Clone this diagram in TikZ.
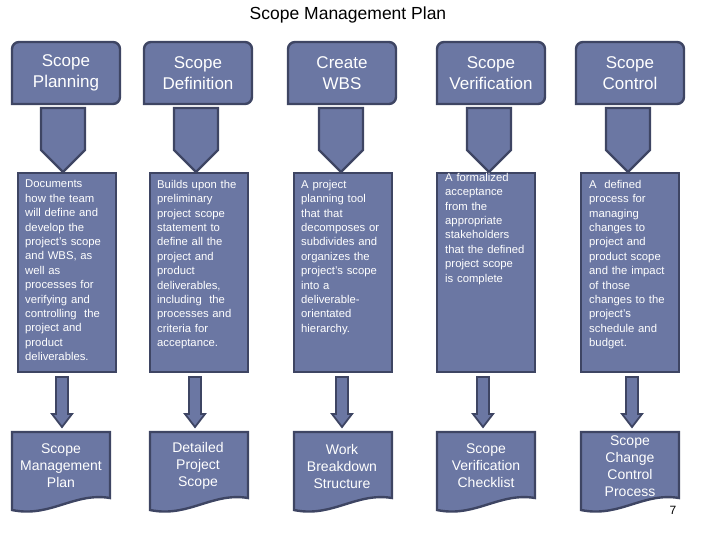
\documentclass[tikz,border=0pt]{standalone}
\usepackage{fontspec}
\setmainfont{Liberation Sans}
\definecolor{boxfill}{HTML}{6B77A3}
\definecolor{boxline}{HTML}{3E4563}
\begin{document}
\begin{tikzpicture}[x=1pt,y=-1pt,
  shp/.style={fill=boxfill,draw=boxline,line width=2.4pt,line join=miter},
  head/.style={text=white,align=center,font=\fontsize{17}{21}\selectfont},
  body/.style={text=white,align=left,anchor=north west,inner sep=0pt,text width=94pt,font=\fontsize{11.3}{14.4}\selectfont},
  docl/.style={text=white,align=center,font=\fontsize{14}{17}\selectfont}]
\useasboundingbox (0,0) rectangle (720,540);
\node[font=\fontsize{17.5}{20}\selectfont] (title) at (348,15) {Scope Management Plan};
\foreach \n/\tl/\bl/\cx/\ax/\dl/\tx in {
 1/12/18/63/62/12/{Scope\\Planning},
 2/144/150/196/195/150/{Scope\\Definition},
 3/288/294/341/342/294/{Create\\WBS},
 4/437/437/489/483/437/{Scope\\Verification},
 5/576/581/628/632/581/{Scope\\Control}}{
  % top box
  \draw[shp] (\tl,104) -- (\tl,50) [rounded corners=7pt] -- (\tl,42) -- (\tl+108,42) [sharp corners] -- (\tl+108,96) [rounded corners=7pt] -- (\tl+108,104) [sharp corners] -- cycle;
  \node[head] (h\n) at (\tl+54,73) {\tx};
  % pentagon
  \draw[shp] (\cx-22,108) -- (\cx+22,108) -- (\cx+22,150) -- (\cx,172) -- (\cx-22,150) -- cycle;
  \coordinate (p\n) at (\cx,172);
  % body box
  \draw[shp] (\bl,173) rectangle (\bl+98,372);
  \node[minimum width=98pt,minimum height=199pt,inner sep=0pt] (b\n) at (\bl+49,272.5) {};
  % arrow
  \draw[shp,line width=1.8pt] (\ax-6,377) -- (\ax+6,377) -- (\ax+6,414) -- (\ax+10,414) -- (\ax,427) -- (\ax-10,414) -- (\ax-6,414) -- cycle;
  % document
  \draw[shp] (\dl,432) -- (\dl+98,432) -- (\dl+98,498) .. controls (\dl+62,492) and (\dl+38,518) .. (\dl,510) -- cycle;
  \node[minimum width=98pt,minimum height=66pt,inner sep=0pt] (d\n) at (\dl+49,465) {};
}
\node[body] (t1) at (25,180) {Documents\\how the team\\will define and\\develop the\\project's scope\\and WBS, as\\well as\\processes for\\verifying and\\controlling~ the\\project and\\product\\deliverables.};
\node[body] (t2) at (157,180) {Builds upon the\\preliminary\\project scope\\statement to\\define all the\\project and\\product\\deliverables,\\including~ the\\processes and\\criteria for\\acceptance.};
\node[body] (t3) at (301,180) {A project\\planning tool\\that that\\decomposes or\\subdivides and\\organizes the\\project's scope\\into a\\deliverable-\\orientated\\hierarchy.};
\node[body] (t4) at (445,173) {A formalized\\acceptance\\from the\\appropriate\\stakeholders\\that the defined\\project scope\\is complete};
\node[body] (t5) at (589,180) {A~ defined\\process for\\managing\\changes to\\project and\\product scope\\and the impact\\of those\\changes to the\\project's\\schedule and\\budget.};
\node[docl] (l1) at (61,466) {Scope\\Management\\Plan};
\node[docl] (l2) at (198,466) {Detailed\\Project\\Scope};
\node[docl] (l3) at (342,466) {Work\\Breakdown\\Structure};
\node[docl] (l4) at (486,466) {Scope\\Verification\\Checklist};
\node[docl] (l5) at (630,466) {Scope\\Change\\Control\\Process};
\node[font=\fontsize{12}{14}\selectfont] (pg) at (673,510) {7};
\end{tikzpicture}
\end{document}
